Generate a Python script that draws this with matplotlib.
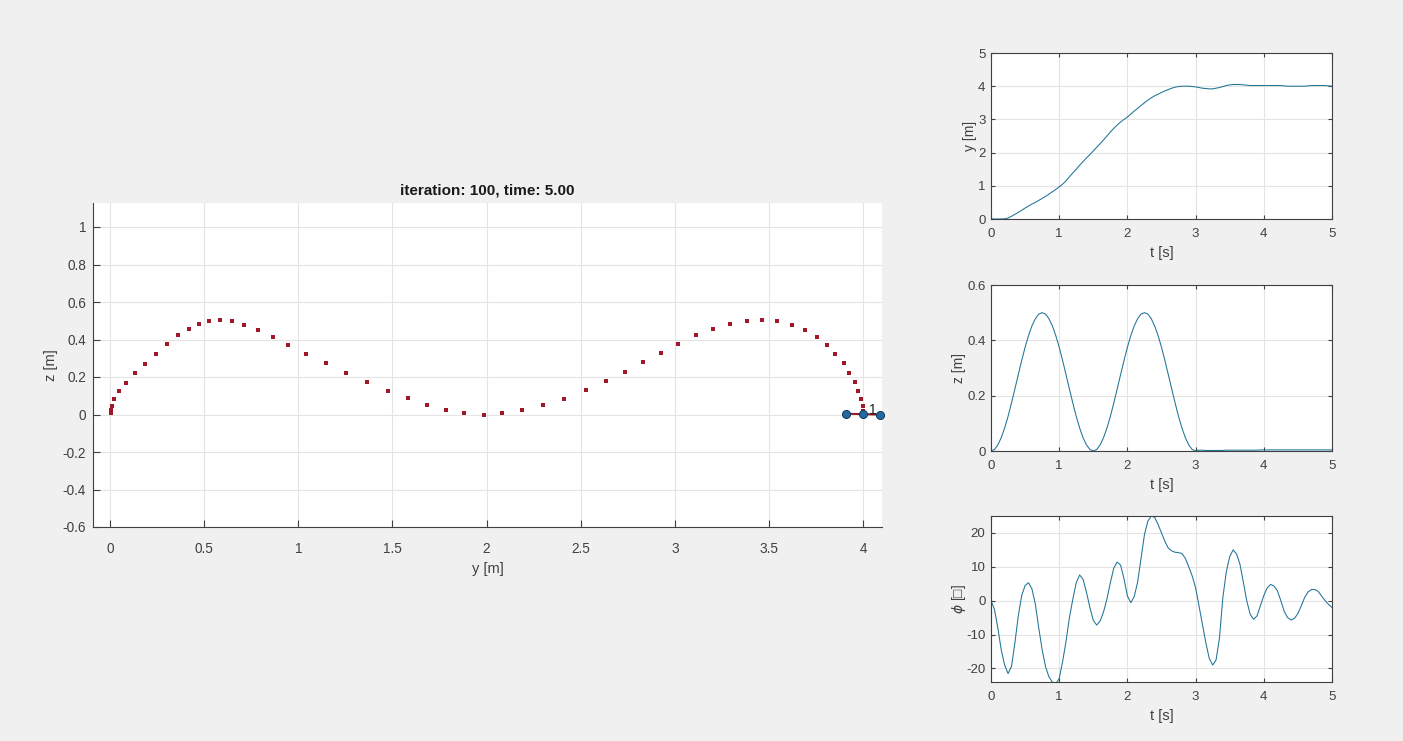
import numpy as np
import matplotlib
matplotlib.use("Agg")
import matplotlib.pyplot as plt

t_end = 5.0
y_pos = [0,0,0,0,.005,.03,.08,.14,.2,.26,.33,.39,.45,.5,.56,.62,.68,.75,.82,.89,.97,1.05,1.15,1.27,1.39,1.5,1.62,1.73,1.84,1.94,
 2.05,2.16,2.27,2.38,2.5,2.62,2.73,2.83,2.92,3.0,3.07,3.16,3.25,3.33,3.42,3.5,3.58,3.65,3.71,3.76,3.81,3.86,3.9,3.94,3.97,3.99,4.0,4.0,4.0,3.99,
 3.98,3.96,3.94,3.93,3.92,3.92,3.94,3.96,3.99,4.02,4.04,4.05,4.05,4.05,4.04,4.03,4.02,4.02,4.02,4.02,
 4.02,4.02,4.02,4.02,4.02,4.02,4.01,4.0,4.0,4.0,4.0,4.0,4.0,4.01,4.02,4.02,4.02,4.02,4.02,4.01,4.0]
z_pos = [0,.0055,.022,.048,.083,.125,.173,.224,.276,.327,.375,.417,.452,.478,.495,.5,.495,.478,.452,.417,.375,.327,.276,.224,.173,.125,.083,.048,.022,.0055,
 0,.0055,.022,.048,.083,.125,.173,.224,.276,.327,.375,.417,.452,.478,.495,.5,.495,.478,.452,.417,.375,.327,.276,.224,.173,.125,.083,.048,.022,.0055,
 .001,.003,.003,.002,.002,.002,.002,.002,.002,.003,.003,.003,.003,.003,.003,.003,.003,.003,.003,.004,
 .004,.004,.004,.004,.004,.004,.004,.004,.004,.004,.004,.004,.004,.004,.004,.004,.004,.004,.004,.004,.004]
phi = [0,-2.5,-8,-14.5,-19,-21.5,-19.5,-12.5,-4.5,1.5,4.5,5.3,3.5,-1,-8,-14.5,-19.5,-22.5,-24,-24.5,
 -23,-18,-12,-5,.5,5.3,7.6,6.3,2.5,-2,-5.8,-7.2,-6,-3.3,
 .5,5.3,9.6,11.4,10.5,6.5,
 1.4,-.6,1.2,5.5,12.5,19.5,23.5,25,24.6,22.5,20,17.5,15.5,14.7,14.3,14.2,13.9,12.5,10,7.3,
 3.8,-1.5,-7,-12.4,-17,-19,-17.5,-11,1,8.5,13,15,13.8,10.8,5.5,0,-4,-5.5,-4.5,-1.5,
 1.5,3.8,4.8,4.3,2.9,0,-3.2,-5,-5.7,-5.2,-3.8,-1.5,1,2.6,3.3,3.3,2.7,1.3,0,-1.1,-2]

dot_y = [.005,.005,.005,.009,.023,.050,.085,.135,.188,.244,.301,.359,.418,.475,.528,.586,.646,.714,.784,.864,.947,1.041,1.147,1.254,1.363,1.475,1.581,1.682,1.785,1.882,1.985,
 2.084,2.190,2.302,2.413,2.529,2.635,2.737,2.833,2.927,3.019,3.113,3.200,3.293,3.382,3.465,3.545,3.621,3.692,3.754,3.807,3.851,3.896,3.927,3.954,3.975,3.989,3.998,4.0]
dot_z = [.006,.015,.024,.047,.083,.124,.168,.221,.269,.323,.376,.422,.456,.484,.500,.505,.497,.479,.453,.415,.372,.323,.275,.221,.172,.127,.086,.052,.026,.008,-.001,
 .008,.022,.049,.084,.129,.177,.226,.280,.328,.378,.422,.456,.482,.497,.502,.497,.479,.453,.415,.372,.323,.277,.221,.173,.124,.083,.045,.02]

robot_y = [3.91, 4.0, 4.087]
robot_z = [.004, .002, -.001]

main_xticks = [0,.5,1,1.5,2,2.5,3,3.5,4]
main_xlabels = ['0','0.5','1','1.5','2','2.5','3','3.5','4']
main_yticks = [-.6,-.4,-.2,0,.2,.4,.6,.8,1]
main_ylabels = ['-0.6','-0.4','-0.2','0','0.2','0.4','0.6','0.8','1']

plt.rcParams['font.family'] = ['Liberation Sans', 'DejaVu Sans']
plt.rcParams['mathtext.fontset'] = 'dejavusans'
W, H = 1403, 741
BG = '#f0f0f0'; INK = '#404040'; GRID = '#e4e4e4'; LINE = '#1f7396'

fig = plt.figure(figsize=(W/100, H/100), dpi=100, facecolor=BG)

def mk(l, t, r, b):
    ax = fig.add_axes([l/W, 1-b/H, (r-l)/W, (b-t)/H], facecolor='white')
    ax.set_axisbelow(True)
    ax.grid(True, color=GRID, lw=0.8)
    for s in ax.spines.values():
        s.set_color(INK); s.set_linewidth(0.8)
    return ax

ax = mk(93, 203, 882, 527)
ax.spines['top'].set_visible(False); ax.spines['right'].set_visible(False)
ax.plot(dot_y, dot_z, ls='none', marker='s', ms=2.2, mfc='#a01828', mec='#a01828', mew=0)
ax.plot(robot_y, robot_z, color='#8a1520', lw=1.4, zorder=3, clip_on=False)
ax.plot(robot_y, robot_z, ls='none', marker='o', ms=5.8, mfc='#1f6aa5', mec='#17364f', mew=0.7, zorder=4, clip_on=False)
ax.text(4.03, -0.012, '1', fontsize=10, color='#222222', va='bottom', ha='left', zorder=5)
ax.set_xlim(-0.09, 4.10); ax.set_ylim(-0.6, 1.128)
ax.set_xticks(main_xticks, main_xlabels); ax.set_yticks(main_yticks, main_ylabels)
ax.tick_params(direction='in', length=5, width=0.8, color=INK, labelcolor=INK, labelsize=9.8)
ax.tick_params(axis='x', pad=11)
ax.tick_params(axis='y', pad=5)
ax.set_xlabel('y [m]', fontsize=10.5, color=INK, labelpad=4)
ax.set_ylabel('z [m]', fontsize=10.5, color=INK, labelpad=3)
ax.set_title('iteration: 100, time: 5.00', fontsize=11, fontweight='bold', color='#1a1a1a', pad=6)

t = np.linspace(0, t_end, len(phi))
sides = [((53, 219), y_pos, (0, 5), [0,1,2,3,4,5], ['0','1','2','3','4','5'], 'y [m]', 1),
         ((285, 451), z_pos, (0, .6), [0,.2,.4,.6], ['0','0.2','0.4','0.6'], 'z [m]', 1),
         ((516, 682), phi, (-24, 25), [-20,-10,0,10,20], ['-20','-10','0','10','20'], r'$\phi$ [□]', -1.5)]
for (top, bot), vals, lim, ticks, labs, lab, lpad in sides:
    a = mk(991, top, 1332, bot)
    a.plot(t, vals, color=LINE, lw=0.75)
    a.set_xlim(0, t_end); a.set_ylim(*lim)
    a.set_xticks([0,1,2,3,4,5]); a.set_yticks(ticks, labs)
    a.tick_params(direction='in', length=3, width=0.8, color=INK, labelcolor=INK,
                  labelsize=9.5, top=True, right=True)
    a.tick_params(axis='x', pad=6.5)
    a.tick_params(axis='y', pad=4)
    a.set_xlabel('t [s]', fontsize=10.5, color=INK, labelpad=4)
    a.set_ylabel(lab, fontsize=10, color=INK, labelpad=lpad)

fig.savefig('out.png', dpi=100, facecolor=BG)
